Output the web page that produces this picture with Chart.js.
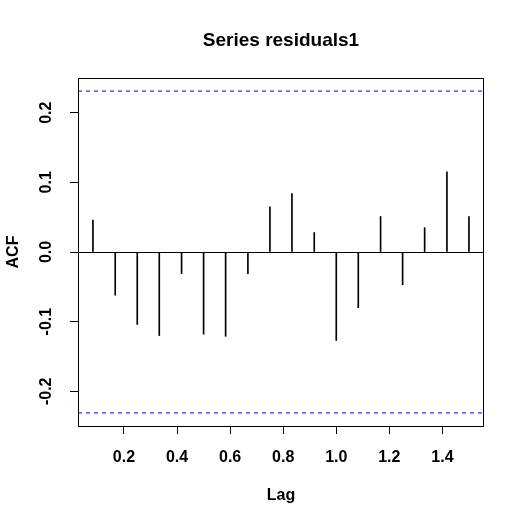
<!DOCTYPE html>
<html>
<head>
  <script src="https://cdn.jsdelivr.net/npm/chart.js"></script>
  <style>
    body { margin: 0; background: #fff; }
    canvas { display: block; }
  </style>
</head>
<body>
  <canvas id="acfChart" width="525" height="524"></canvas>

  <script>
    // ACF of residuals1 (monthly series, lag in years)
    var lags = [0.083, 0.167, 0.25, 0.333, 0.417, 0.5, 0.583, 0.667, 0.75,
                0.833, 0.917, 1.0, 1.083, 1.167, 1.25, 1.333, 1.417, 1.5];
    var acfValues = [0.046, -0.062, -0.104, -0.120, -0.031, -0.118, -0.121, -0.031, 0.065,
                     0.084, 0.028, -0.127, -0.080, 0.051, -0.047, 0.035, 0.115, 0.051];

    // confidence bound (dashed blue lines)
    var clim = 0.231;

    // axis limits and ticks
    var xLimits = [0.0267, 1.5567];
    var yLimits = [-0.2498, 0.2498];
    var xTicks = [0.2, 0.4, 0.6, 0.8, 1.0, 1.2, 1.4];
    var yTicks = [-0.2, -0.1, 0.0, 0.1, 0.2];
    var yTickLabels = ['-0.2', '-0.1', '0.0', '0.1', '0.2'];

    var fontFamily = '"Liberation Sans", Arial, sans-serif';

    // box around the plot + rotated y tick labels, like R does
    var rStylePlugin = {
      id: 'rStyle',
      afterDraw: function(chart) {
        var ctx = chart.ctx;
        var area = chart.chartArea;
        ctx.save();
        ctx.strokeStyle = '#000';
        ctx.lineWidth = 1;
        ctx.strokeRect(area.left + 0.5, area.top + 0.5, area.right - area.left - 1, area.bottom - area.top);

        var y = chart.scales.y;
        ctx.fillStyle = '#000';
        ctx.font = 'bold 16px ' + fontFamily;
        ctx.textAlign = 'center';
        ctx.textBaseline = 'middle';
        for (var i = 0; i < yTicks.length; i++) {
          ctx.save();
          ctx.translate(47, y.getPixelForValue(yTicks[i]));
          ctx.rotate(-Math.PI / 2);
          ctx.fillText(yTickLabels[i], 0, 0);
          ctx.restore();
        }
        ctx.restore();
      }
    };

    var spikes = lags.map(function(l, i) { return { x: l, y: acfValues[i] }; });

    var config = {
      type: 'bar',
      data: {
        datasets: [{
          label: 'ACF',
          data: spikes,
          backgroundColor: '#000',
          borderWidth: 0,
          barThickness: 1
        }, {
          type: 'line',
          label: 'upper',
          data: [{ x: xLimits[0], y: clim }, { x: xLimits[1], y: clim }],
          borderColor: '#0000ff',
          borderWidth: 1,
          borderDash: [4, 4],
          pointRadius: 0,
          fill: false
        }, {
          type: 'line',
          label: 'lower',
          data: [{ x: xLimits[0], y: -clim }, { x: xLimits[1], y: -clim }],
          borderColor: '#0000ff',
          borderWidth: 1,
          borderDash: [4, 4],
          pointRadius: 0,
          fill: false
        }]
      },
      options: {
        responsive: false,
        animation: false,
        layout: { padding: { left: 0, right: 41, top: 0, bottom: 0 } },
        plugins: {
          legend: { display: false },
          tooltip: { enabled: false },
          title: {
            display: true,
            text: 'Series residuals1',
            fullSize: false,
            color: '#000',
            font: { family: fontFamily, size: 19, weight: 'bold' },
            padding: { top: 29.6, bottom: 25.6 }
          }
        },
        scales: {
          x: {
            type: 'linear',
            offset: false,
            min: xLimits[0],
            max: xLimits[1],
            afterBuildTicks: function(scale) {
              scale.ticks = xTicks.map(function(v) { return { value: v }; });
            },
            afterFit: function(scale) { scale.height = 98; },
            border: { display: false },
            grid: {
              offset: false,
              drawOnChartArea: false,
              color: 'transparent',
              tickColor: '#000',
              tickLength: 8
            },
            ticks: {
              color: '#000',
              padding: 14,
              maxRotation: 0,
              font: { family: fontFamily, size: 16, weight: 'bold' },
              callback: function(v) { return Number(v).toFixed(1); }
            },
            title: {
              display: true,
              text: 'Lag',
              color: '#000',
              font: { family: fontFamily, size: 16, weight: 'bold' },
              padding: { top: 0, bottom: 18.4 }
            }
          },
          y: {
            min: yLimits[0],
            max: yLimits[1],
            afterBuildTicks: function(scale) {
              scale.ticks = yTicks.map(function(v) { return { value: v }; });
            },
            afterFit: function(scale) { scale.width = 78; },
            border: { display: false },
            grid: {
              color: function(c) { return c.tick && c.tick.value === 0 ? '#000' : 'transparent'; },
              tickColor: '#000',
              tickLength: 8
            },
            ticks: { display: false },
            title: {
              display: true,
              text: 'ACF',
              color: '#000',
              font: { family: fontFamily, size: 16, weight: 'bold' },
              padding: { top: 4, bottom: 0 }
            }
          }
        }
      },
      plugins: [rStylePlugin]
    };

    var ctx = document.getElementById('acfChart').getContext('2d');
    new Chart(ctx, config);
  </script>
</body>
</html>
